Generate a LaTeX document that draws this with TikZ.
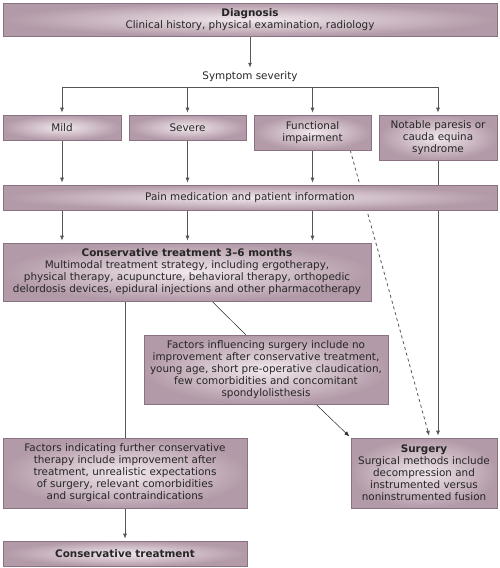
\documentclass[tikz,border=0pt]{standalone}
\usepackage{fontspec}
\setmainfont{DejaVu Sans}
\usetikzlibrary{arrows.meta,calc,backgrounds}

\definecolor{boxedge}{HTML}{B39AA8}
\definecolor{boxmid}{HTML}{F1E8ED}
\definecolor{boxline}{HTML}{8A7282}
\definecolor{arrowgray}{HTML}{555555}
\definecolor{textgray}{HTML}{262626}

\tikzset{
    flowarrow/.style={draw=arrowgray, line width=0.8pt, shorten >=2pt, -{Latex[length=5pt,width=4pt]}},
    flowline/.style={draw=arrowgray, line width=0.8pt},
    thinarrow/.style={draw=black!85, line width=0.5pt, shorten >=2pt, -{Latex[length=5pt,width=4pt]}},
    thinline/.style={draw=black!85, line width=0.5pt},
}

\newcommand{\mauvebox}[6]{
    % Draw a shaded box centred at (#2,#3) and name it with the first argument
    \node[draw=boxline, line width=0.6pt, inner color=boxmid, outer color=boxedge,
          minimum width=#4, minimum height=#5, align=center, inner sep=0pt,
          font=\fontsize{10.4}{12}\selectfont, text=textgray] (#1) at (#2,#3) {#6};
}

\begin{document}
\begin{tikzpicture}[x=1pt, y=-1pt]
    \useasboundingbox (0,0) rectangle (500,568);

%  \draw[step=10, gray!30, ultra thin] (0,0) grid (500,568);

    \mauvebox{diag}{250}{19.5}{494pt}{33pt}{\textbf{Diagnosis}\\Clinical history, physical examination, radiology}
    \node[font=\fontsize{10.4}{12}\selectfont, text=textgray, inner sep=2pt] (severity) at (250,77) {Symptom severity};
    \coordinate (branch) at (250,87);

    \mauvebox{mild}{62}{127.5}{118pt}{25pt}{Mild}
    \mauvebox{severe}{187.5}{127.5}{117pt}{25pt}{Severe}
    \mauvebox{func}{312.5}{132.5}{117pt}{35pt}{Functional\\impairment}
    \mauvebox{paresis}{438}{137.5}{118pt}{45pt}{Notable paresis or\\cauda equina\\syndrome}

    \mauvebox{pain}{250}{197.5}{494pt}{25pt}{Pain medication and patient information}

    \mauvebox{cons}{187}{272}{368pt}{58pt}{\textbf{Conservative treatment 3--6 months}\\Multimodal treatment strategy, including ergotherapy,\\physical therapy, acupuncture, behavioral therapy, orthopedic\\delordosis devices, epidural injections and other pharmacotherapy}
    \mauvebox{fsurg}{266}{369.5}{244pt}{69pt}{Factors influencing surgery include no\\improvement after conservative treatment,\\young age, short pre-operative claudication,\\few comorbidities and concomitant\\spondylolisthesis}

    \mauvebox{further}{125}{473}{244pt}{70pt}{Factors indicating further conservative\\therapy include improvement after\\treatment, unrealistic expectations\\of surgery, relevant comorbidities\\and surgical contraindications}
    \mauvebox{surgery}{424}{473}{146pt}{70pt}{\textbf{Surgery}\\Surgical methods include\\decompression and\\instrumented versus\\noninstrumented fusion}

    \mauvebox{final}{125}{553.5}{244pt}{25pt}{\textbf{Conservative treatment}}

    \begin{pgfonlayer}{background}
        % severity branches
        \draw[flowarrow] (diag.south) -- (severity.north);
        \draw[flowline] (mild.north |- branch) -- (paresis.north |- branch);
        \foreach \b in {mild, severe, func, paresis}
            \draw[flowarrow] (\b.north |- branch) -- (\b.north);

        % into pain medication and on to conservative treatment
        \foreach \b in {mild, severe, func} {
            \draw[flowarrow] (\b.south) -- (\b.south |- pain.north);
            \draw[flowarrow] (\b |- pain.south) -- (\b |- cons.north);
        }

        \draw[flowarrow] (paresis.south) -- (paresis.south |- surgery.north);
        \draw[flowarrow, dashed] ($(func.south east)+(-21,0)$) -- ($(surgery.north west)+(79,0)$);

        \draw[flowline] (further |- cons.south) -- (further.north);
        \draw[thinline] ($(cons.south)+(25,0)$) -- ($(fsurg.north west)+(102,0)$);
        \draw[thinarrow] ($(fsurg.south)+(50,0)$) -- (surgery.north west);
        \draw[flowarrow] (further.south) -- (final.north);
    \end{pgfonlayer}
\end{tikzpicture}
\end{document}
